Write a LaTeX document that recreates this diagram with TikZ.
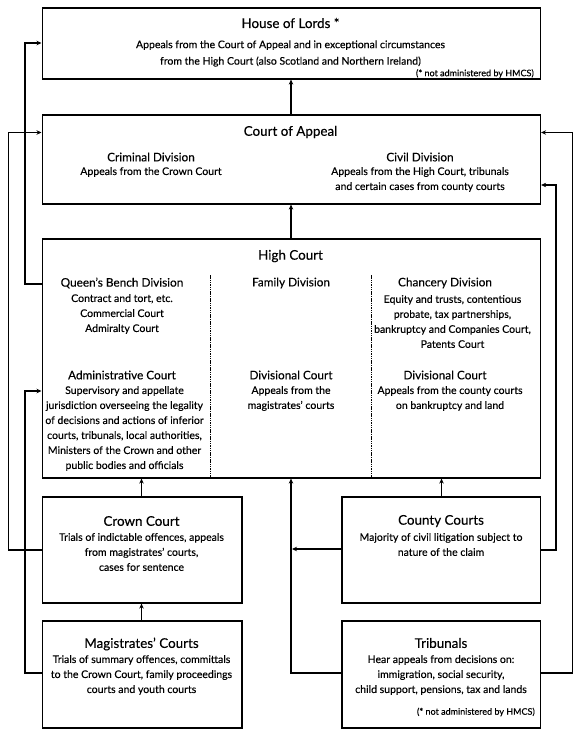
\documentclass[tikz,border=0pt]{standalone}
\usepackage{fontspec}
\setmainfont{Lato}[FakeBold=0.25]
\usetikzlibrary{arrows.meta}
\begin{document}
\begin{tikzpicture}[x=1pt,y=-1pt,
  box/.style={draw=black,line width=1.6pt,rectangle,anchor=north west,inner sep=0pt},
  ttl/.style={font=\fontsize{13.4}{15}\selectfont,inner sep=0pt},
  sub/.style={font=\fontsize{11.8}{13}\selectfont,inner sep=0pt},
  bdy/.style={font=\fontsize{10.5}{15}\selectfont,align=center,inner sep=0pt},
  note/.style={font=\fontsize{9}{10}\selectfont,inner sep=0pt,anchor=east},
  conn/.style={line width=1.3pt,-{Stealth[length=5pt,width=4.5pt]}},
  divider/.style={line width=0.7pt,dash pattern=on 1.5pt off 0.8pt}]
\useasboundingbox (0,0) rectangle (576,733);
\fill[white] (0,0) rectangle (576,733);
% boxes
\node[box,minimum width=498pt,minimum height=71pt] (hol) at (41.5,7) {};
\node[box,minimum width=498pt,minimum height=89pt] (coa) at (41.5,114) {};
\node[box,minimum width=498pt,minimum height=239pt] (hc) at (41.5,238) {};
\node[box,minimum width=199.5pt,minimum height=106pt] (crown) at (41.5,496) {};
\node[box,minimum width=198.5pt,minimum height=106pt] (county) at (341,496) {};
\node[box,minimum width=199.5pt,minimum height=107pt] (mag) at (41.5,620) {};
\node[box,minimum width=198.5pt,minimum height=107pt] (trib) at (341,620) {};
% House of Lords
\node[ttl] (holt) at (290.5,23) {House of Lords *};
\node[bdy,font=\fontsize{10.5}{16.5}\selectfont] (holb) at (290.5,53.5) {Appeals from the Court of Appeal and in exceptional circumstances\\from the High Court (also Scotland and Northern Ireland)};
\node[note] (holn) at (534,73.5) {(* not administered by HMCS)};
% Court of Appeal
\node[ttl] (coat) at (290.5,132) {Court of Appeal};
\node[sub] (crimt) at (151,157) {Criminal Division};
\node[bdy] (crimb) at (151,172) {Appeals from the Crown Court};
\node[sub] (civt) at (420,157) {Civil Division};
\node[bdy] (civb) at (420,179.5) {Appeals from the High Court, tribunals\\and certain cases from county courts};
% High Court
\node[ttl] (hct) at (290.5,256) {High Court};
\draw[divider] (210.5,275) -- (210.5,477);
\draw[divider] (371.5,275) -- (371.5,477);
\node[sub] (qbdt) at (122,283) {Queen's Bench Division};
\node[bdy] (qbdb) at (122,314) {Contract and tort, etc.\\Commercial Court\\Admiralty Court};
\node[sub] (famt) at (291,283) {Family Division};
\node[sub] (chat) at (445,283) {Chancery Division};
\node[bdy] (chab) at (452.5,321.5) {Equity and trusts, contentious\\probate, tax partnerships,\\bankruptcy and Companies Court,\\Patents Court};
\node[sub] (admt) at (122,375) {Administrative Court};
\node[bdy] (admb) at (124.5,428.5) {Supervisory and appellate\\jurisdiction overseeing the legality\\of decisions and actions of inferior\\courts, tribunals, local authorities,\\Ministers of the Crown and other\\public bodies and officials};
\node[sub] (divt) at (291,375) {Divisional Court};
\node[bdy] (divb) at (291,398.5) {Appeals from the\\magistrates' courts};
\node[sub] (div2t) at (445,375) {Divisional Court};
\node[bdy] (div2b) at (450,398.5) {Appeals from the county courts\\on bankruptcy and land};
% Crown Court
\node[ttl] (crt) at (141.5,521) {Crown Court};
\node[bdy] (crb) at (141.5,552) {Trials of indictable offences, appeals\\from magistrates' courts,\\cases for sentence};
% County Courts
\node[ttl] (cct) at (441,521) {County Courts};
\node[bdy] (ccb) at (441,544.5) {Majority of civil litigation subject to\\nature of the claim};
% Magistrates
\node[ttl] (mgt) at (141.5,644) {Magistrates' Courts};
\node[bdy] (mgb) at (141.5,675) {Trials of summary offences, committals\\to the Crown Court, family proceedings\\courts and youth courts};
% Tribunals
\node[ttl] (trt) at (441,643) {Tribunals};
\node[bdy] (trb) at (441,675) {Hear appeals from decisions on:\\immigration, social security,\\child support, pensions, tax and lands};
\node[note] (trn) at (535,712) {(* not administered by HMCS)};
% connectors
\draw[conn] (coa.north -| 291,0) -- (hol.south -| 291,0);
\draw[conn] (hc.north -| 291,0) -- (coa.south -| 291,0);
\draw[conn] (crown.north -| 141.5,0) -- (hc.south -| 141.5,0);
\draw[conn] (mag.north -| 141.5,0) -- (crown.south -| 141.5,0);
\draw[conn] (county.north -| 441.5,0) -- (hc.south -| 441.5,0);
\draw[conn] (trib.west |- 0,673) -- (291,673) -- (hc.south -| 291,0);
\draw[conn] (county.west |- 0,549) -- (292,549);
\draw[conn] (crown.west |- 0,550) -- (8.5,550) -- (8.5,132.5) -- (coa.west |- 0,132.5);
\draw[conn] (hc.west |- 0,284) -- (25,284) -- (25,43) -- (hol.west |- 0,43);
\draw[conn] (mag.west |- 0,673) -- (25,673) -- (25,391) -- (hc.west |- 0,391);
\draw[conn] (trib.east |- 0,673) -- (572.5,673) -- (572.5,132.5) -- (coa.east |- 0,132.5);
\draw[conn] (county.east |- 0,550) -- (556,550) -- (556,185) -- (coa.east |- 0,185);
\end{tikzpicture}
\end{document}
